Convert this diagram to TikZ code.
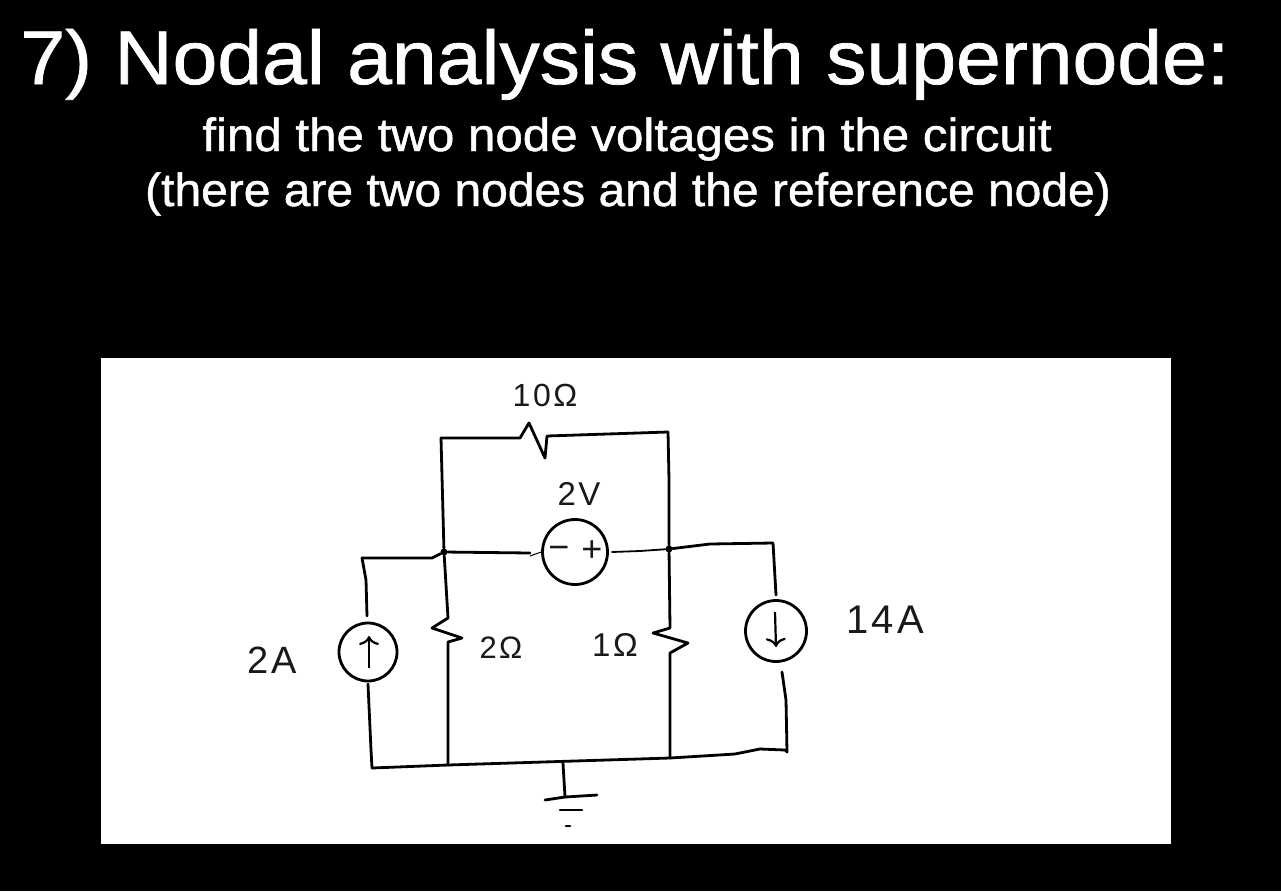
\documentclass[tikz,border=0pt]{standalone}
\usepackage{fontspec}
\setmainfont{Liberation Sans}
\usetikzlibrary{arrows.meta}
\tikzset{
	wire/.style={line width=2.8pt, color=black, line join=round, line cap=round},
	source/.style={circle, draw=black, fill=white, line width=2.8pt, inner sep=0pt},
	junction/.style={circle, fill=black, minimum size=7pt, inner sep=0pt},
	title/.style={text=white, anchor=base, inner sep=0pt},
	hand/.style={font=\fontsize{#1}{#1}\selectfont\addfontfeatures{LetterSpace=8}, inner sep=0pt, text=black!90},
	current/.style={-{To[length=9pt, width=20pt]}, line width=2.2pt, color=black}
}
\begin{document}
\begin{tikzpicture}[x=1pt, y=-1pt]
	\useasboundingbox (0,0) rectangle (1281,891);
	\fill[black] (0,0) rectangle (1281,891);
	\fill[white] (101,358) rectangle (1171,844);

	% heading
	\node[title, font=\fontsize{76}{76}\selectfont\addfontfeatures{FakeBold=1,FakeStretch=1.06}] (head) at (625,84) {7) Nodal analysis with supernode:};
	\node[title, font=\fontsize{46.5}{46}\selectfont\addfontfeatures{FakeBold=1,FakeStretch=1.06}] (subone) at (627,151) {find the two node voltages in the circuit};
	\node[title, font=\fontsize{46.5}{46}\selectfont\addfontfeatures{FakeBold=1,FakeStretch=1.032}] (subtwo) at (628,206) {(there are two nodes and the reference node)};

	% corners and junctions
	\coordinate (topleft) at (441,438);
	\coordinate (topright) at (668,432);
	\node[junction] (nodea) at (444,552) {};
	\node[junction] (nodeb) at (669,549) {};
	\coordinate (leftcorner) at (362,558);
	\coordinate (rightcorner) at (773,543);
	\coordinate (botleft) at (372,768);
	\coordinate (bota) at (448,765);
	\coordinate (botb) at (670,758);
	\coordinate (botright) at (787,752);
	\coordinate (gndtop) at (563,763);
	\coordinate (gndbar) at (565,797);

	% sources
	\node[source, minimum size=58pt] (isrca) at (368,652) {};
	\node[source, minimum size=65pt] (vsrc) at (575,552) {};
	\node[source, minimum size=61pt] (isrcb) at (776,631) {};

	% top branch with the 10 ohm resistor
	\draw[wire] (topleft) -- (520,438) -- (529,423) -- (545,458) -- (547,436) -- (topright);
	\draw[wire] (topleft) -- (nodea);
	\draw[wire] (topright) -- (669,480) -- (nodeb);

	% middle wire
	\draw[wire] (leftcorner) -- (432,558) -- (nodea);
	\draw[wire] (nodea) -- (530,553);
	\draw[wire, line width=1pt] (530,556) -- (vsrc.west);
	\draw[wire, line width=1.8pt] (612,552) -- (640,551) -- (nodeb);
	\draw[wire] (nodeb) -- (710,544) -- (rightcorner) -- (776,595);

	% left source
	\draw[wire] (leftcorner) -- (366,580) -- (367,616);
	\draw[wire] (368,684) -- (371,750) -- (botleft);
	\draw[wire] (botleft) -- (bota);

	% 2 ohm and 1 ohm resistors
	\draw[wire] (nodea) -- (448,618) -- (432,628) -- (462,638) -- (448,642) -- (bota);
	\draw[wire] (nodeb) -- (670,628) -- (653,633) -- (688,643) -- (670,653) -- (botb);
	\draw[wire] (bota) -- (botb);

	% right source
	\draw[wire] (782,672) -- (786,700) -- (botright) -- (785,750) -- (760,749) -- (735,754) -- (botb);

	% ground
	\draw[wire] (gndtop) -- (gndbar);
	\draw[wire] (545,800) -- (gndbar) -- (597,795);
	\draw[wire] (560,810) -- (582,810);
	\draw[wire] (566,826) -- (570,826);

	% arrows in the sources
	\coordinate (isrcatail) at (369,668);
	\coordinate (isrcahead) at (369,636);
	\coordinate (isrcbtail) at (775,612);
	\coordinate (isrcbhead) at (776,647);
	\draw[current] (isrcatail) -- (isrcahead);
	\draw[current] (isrcbtail) -- (isrcbhead);

	% signs
	\node[hand=36] (minus) at (559,553) {−};
	\node[hand=36] (plus) at (592,551) {+};

	% labels
	\node[hand=32] (labtop) at (545,395) {10Ω};
	\node[hand=33] (labv) at (579,494) {2V};
	\node[hand=38] (laba) at (272,660) {2A};
	\node[hand=31] (labtwo) at (501,648) {2Ω};
	\node[hand=33] (labone) at (615,645) {1Ω};
	\node[hand=40] (labb) at (885,620) {14A};
\end{tikzpicture}
\end{document}
